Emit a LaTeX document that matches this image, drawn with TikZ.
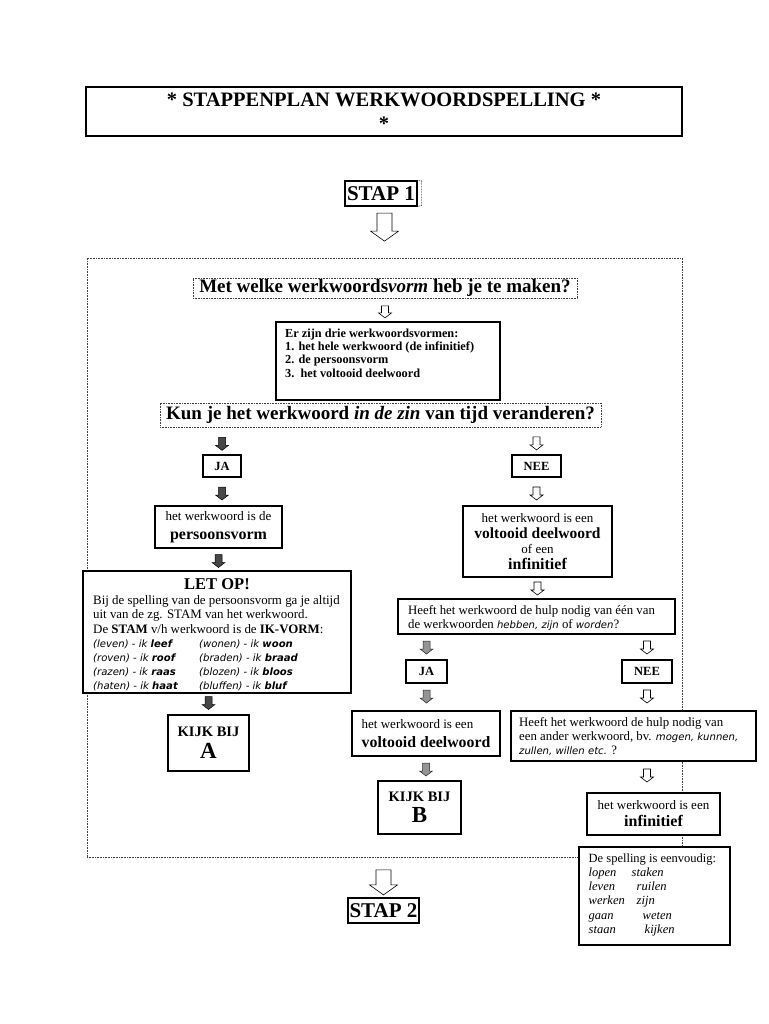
\documentclass[tikz,border=0pt]{standalone}
\usepackage{fontspec}
\setmainfont{Liberation Serif}
\newfontfamily\vfont{DejaVu Sans}[ItalicFont={DejaVu Sans Oblique},BoldItalicFont={DejaVu Sans Bold Oblique}]
\usetikzlibrary{calc}
\newcommand\fs[2]{\fontsize{#1}{#2}\selectfont}
\newcommand\vi[1]{{\vfont\itshape\fontsize{10.1}{14}\selectfont #1}}
\newcommand\vb[1]{{\vfont\itshape\bfseries\fontsize{10.1}{14}\selectfont #1}}
% block arrow: [shift]{style}{from}{to}{halflength}{shafthalf}{headhalf}{headlength}
\newcommand\barrow[8][0]{%
  \path[#2] let \p1=(#3), \p2=(#4), \n1={(\y1+\y2)/2-(#1)} in
  (\x1-#6pt,\n1+#5pt) -- (\x1+#6pt,\n1+#5pt) -- (\x1+#6pt,\n1-#5pt+#8pt)
  -- (\x1+#7pt,\n1-#5pt+#8pt) -- (\x1,\n1-#5pt) -- (\x1-#7pt,\n1-#5pt+#8pt)
  -- (\x1-#6pt,\n1-#5pt+#8pt) -- cycle;}
\tikzset{
  box/.style={draw, line width=1.1pt, fill=white, inner sep=0pt, align=center},
  dotbox/.style={draw=black!75, line width=0.6pt, dash pattern=on 0.8pt off 0.8pt, inner sep=0pt},
  txt/.style={inner sep=0pt, align=left, anchor=north west},
  darkarr/.style={draw=black, fill=black!72, line width=0.5pt},
  grayarr/.style={draw=black!85, fill=black!42, line width=0.5pt},
  hollowarr/.style={draw=black, fill=white, line width=0.6pt},
}
\begin{document}
\begin{tikzpicture}[x=1pt,y=-1pt]
\fill[white] (0,0) rectangle (768,1024);
\useasboundingbox (0,0) rectangle (768,1024);

% title
\node[box, minimum width=596pt, minimum height=49pt] (title) at (384,111.5) {};
\node[inner sep=0pt, align=center, anchor=north, font=\bfseries\fs{20.5}{24}] (titletxt) at (384,93)
  {* STAPPENPLAN WERKWOORDSPELLING *\\*};

% stap 1
\node[box, minimum width=72pt, minimum height=25pt, font=\bfseries\fs{21}{22}] (stap1) at (381,193.5) {STAP 1};
\draw[dotbox] (stap1.north east) -- ++(4,0) -- ++(0,25) -- (stap1.south east);

% dotted frame
\node[dotbox, minimum width=595pt, minimum height=599pt] (frame) at (384.5,557.5) {};

\barrow[-5]{hollowarr}{frame.north |- stap1.south}{frame.north}{14}{7.5}{14}{10}

% question 1
\node[dotbox, fill=white, minimum width=384pt, minimum height=20pt, font=\bfseries\fs{19}{20}] (q1) at (385,288)
  {Met welke werkwoords\textit{vorm} heb je te maken?};

% drie vormen
\node[box, minimum width=224pt, minimum height=78pt] (drie) at (388,361) {};
\node[txt, font=\bfseries\fs{12.3}{13.3}] (drietxt) at (285,328.5)
  {Er zijn drie werkwoordsvormen:\\1. het hele werkwoord (de infinitief)\\2. de persoonsvorm\\3.\ \ het voltooid deelwoord};
\barrow[2]{hollowarr}{q1.south}{drie.north}{6}{3.5}{6.5}{5}

% question 2
\node[dotbox, fill=white, minimum width=441pt, minimum height=24pt, font=\bfseries\fs{19}{20}] (q2) at (380.5,415)
  {Kun je het werkwoord \textit{in de zin} van tijd veranderen?};

% left branch
\node[box, minimum width=38pt, minimum height=22pt, font=\bfseries\fs{12.5}{13}] (ja1) at (222,466) {JA};
\node[box, minimum width=127pt, minimum height=42pt, font=\fs{13}{16}] (pv) at (218.5,527)
  {het werkwoord is de\\[3pt]{\bfseries\fs{16}{17}persoonsvorm}};
\node[box, minimum width=268pt, minimum height=122pt] (letop) at (217,632) {};
\node[inner sep=0pt, font=\bfseries\fs{16.5}{18}] (letoph) at (217,584) {LET OP!};
\node[txt, font=\fs{12.9}{14.2}] (letopt) at (93,595.5)
  {Bij de spelling van de persoonsvorm ga je altijd\\
   uit van de zg. STAM van het werkwoord.\\
   De \textbf{STAM} v/h werkwoord is de \textbf{IK-VORM}:\\
   \makebox[106pt][l]{\vi{(leven) - ik} \vb{leef}}\vi{(wonen) - ik} \vb{woon}\\
   \makebox[106pt][l]{\vi{(roven) - ik} \vb{roof}}\vi{(braden) - ik} \vb{braad}\\
   \makebox[106pt][l]{\vi{(razen) - ik} \vb{raas}}\vi{(blozen) - ik} \vb{bloos}\\
   \makebox[106pt][l]{\vi{(haten) - ik} \vb{haat}}\vi{(bluffen) - ik} \vb{bluf}};
\node[box, minimum width=81pt, minimum height=56pt, font=\bfseries\fs{14.5}{22}] (kijkA) at (208.5,743)
  {KIJK BIJ\\{\fs{23}{24}A}};

\barrow[3]{darkarr}{ja1.north |- q2.south}{ja1.north}{6.5}{3.5}{6.5}{5}
\barrow[2]{darkarr}{ja1.south}{pv.north}{6.5}{3.5}{6.5}{5}
\barrow[1.5]{darkarr}{pv.south}{letop.north}{6.5}{3.5}{6.5}{5}
\barrow[-1]{darkarr}{kijkA.north |- letop.south}{kijkA.north}{6.5}{3.5}{6.5}{5}

% right branch
\node[box, minimum width=49pt, minimum height=22pt, font=\bfseries\fs{12.5}{13}] (nee1) at (536.5,466) {NEE};
\node[box, minimum width=149pt, minimum height=71pt, font=\fs{13}{15.7}] (vdinf) at (537.5,541.5)
  {het werkwoord is een\\{\bfseries\fs{15.5}{17}voltooid deelwoord}\\of een\\{\bfseries\fs{16}{17}infinitief}};
\node[box, minimum width=277pt, minimum height=35pt] (heeft1) at (536.5,616.5) {};
\node[txt, font=\fs{12.8}{14}] (heeft1t) at (408,605.5)
  {Heeft het werkwoord de hulp nodig van één van\\de werkwoorden \vi{hebben, zijn} of \vi{worden}?};

\barrow[2.5]{hollowarr}{nee1.north |- q2.south}{nee1.north}{6.5}{3.5}{6.5}{5}
\barrow[2]{hollowarr}{nee1.south}{vdinf.north}{6.5}{3.5}{6.5}{5}
\barrow[0.5]{hollowarr}{vdinf.south}{heeft1.north}{6.5}{3.5}{6.5}{5}

% JA sub-branch
\node[box, minimum width=41pt, minimum height=23pt, font=\bfseries\fs{12.5}{13}] (ja2) at (426.5,671.5) {JA};
\node[box, minimum width=148pt, minimum height=45pt, font=\fs{13}{19}, align=left] (vd) at (426,733.5)
  {het werkwoord is een\\{\bfseries\fs{15.8}{17}voltooid deelwoord}};
\node[box, minimum width=83pt, minimum height=53pt, font=\bfseries\fs{14.5}{21}] (kijkB) at (419.5,807.5)
  {KIJK BIJ\\{\fs{23}{24}B}};

\barrow[0.5]{grayarr}{ja2.north |- heeft1.south}{ja2.north}{6.5}{3.5}{6.5}{5}
\barrow[-0.5]{grayarr}{ja2.south}{vd.north}{6.5}{3.5}{6.5}{5}
\barrow[1]{grayarr}{vd.south}{kijkB.north}{6.5}{3.5}{6.5}{5}

% NEE sub-branch
\node[box, minimum width=50pt, minimum height=23pt, font=\bfseries\fs{12.5}{13}] (nee2) at (647,671.5) {NEE};
\node[box, minimum width=245pt, minimum height=50pt] (heeft2) at (633.5,736) {};
\node[txt, font=\fs{12.8}{14}] (heeft2t) at (519,717.5)
  {Heeft het werkwoord de hulp nodig van\\een ander werkwoord, bv. \vi{mogen, kunnen,}\\\vi{zullen, willen etc.} ?};
\node[box, minimum width=133pt, minimum height=42pt, font=\fs{13}{17}] (inf) at (653.5,814)
  {het werkwoord is een\\{\bfseries\fs{16}{17}infinitief}};
\node[box, minimum width=151pt, minimum height=98pt] (spel) at (654.5,896) {};
\node[txt, font=\fs{12.5}{14.2}] (spelt) at (588.5,853.5)
  {De spelling is eenvoudig:\\
   \itshape\makebox[43pt][l]{lopen}staken\\
   \itshape\makebox[48pt][l]{leven}ruilen\\
   \itshape\makebox[48pt][l]{werken}zijn\\
   \itshape\makebox[54pt][l]{gaan}weten\\
   \itshape\makebox[56pt][l]{staan}kijken};

\barrow[0.5]{hollowarr}{nee2.north |- heeft1.south}{nee2.north}{6.5}{3.5}{6.5}{5}
\barrow[-0.5]{hollowarr}{nee2.south}{heeft2.north}{6.5}{3.5}{6.5}{5}
\barrow[-1.5]{hollowarr}{nee2.south |- heeft2.south}{inf.north}{6.5}{3.5}{6.5}{5}

% stap 2
\node[box, minimum width=71pt, minimum height=25pt, font=\bfseries\fs{21}{22}] (stap2) at (383.5,910.5) {STAP 2};
\barrow[5]{hollowarr}{stap2.north |- frame.south}{stap2.north}{12.5}{7.5}{14}{10}
\end{tikzpicture}
\end{document}
